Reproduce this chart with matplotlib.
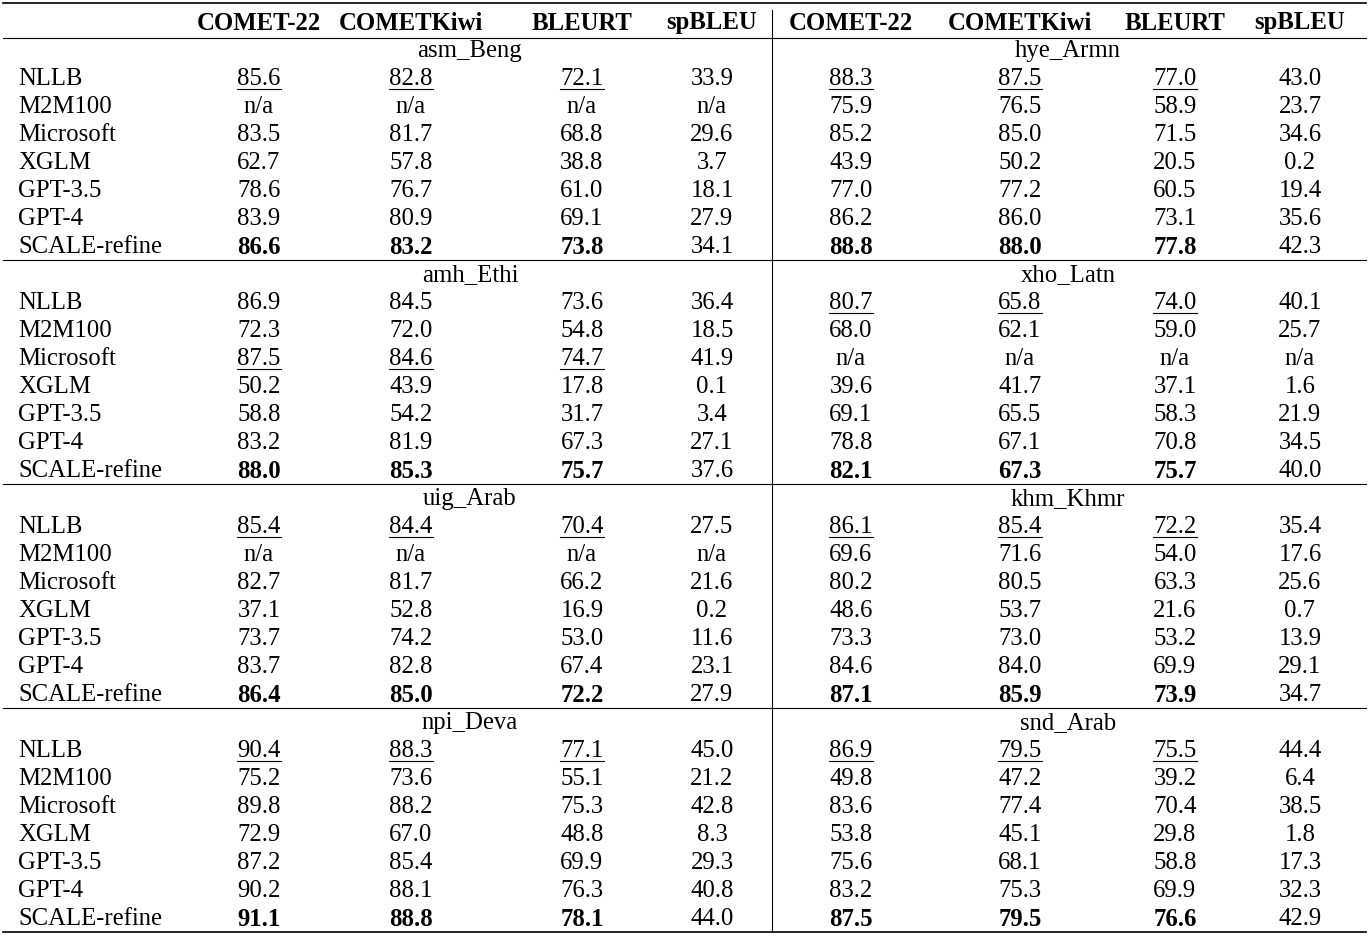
import matplotlib
matplotlib.use("Agg")
import matplotlib.pyplot as plt

models = ["NLLB", "M2M100", "Microsoft", "XGLM", "GPT-3.5", "GPT-4", "SCALE-refine"]
metrics = ["COMET-22", "COMETKiwi", "BLEURT", "spBLEU"]
left_langs = ["asm_Beng", "amh_Ethi", "uig_Arab", "npi_Deva"]
right_langs = ["hye_Armn", "xho_Latn", "khm_Khmr", "snd_Arab"]

asm_Beng = [["85.6","82.8","72.1","33.9"],["n/a","n/a","n/a","n/a"],["83.5","81.7","68.8","29.6"],["62.7","57.8","38.8","3.7"],["78.6","76.7","61.0","18.1"],["83.9","80.9","69.1","27.9"],["86.6","83.2","73.8","34.1"]]
hye_Armn = [["88.3","87.5","77.0","43.0"],["75.9","76.5","58.9","23.7"],["85.2","85.0","71.5","34.6"],["43.9","50.2","20.5","0.2"],["77.0","77.2","60.5","19.4"],["86.2","86.0","73.1","35.6"],["88.8","88.0","77.8","42.3"]]
amh_Ethi = [["86.9","84.5","73.6","36.4"],["72.3","72.0","54.8","18.5"],["87.5","84.6","74.7","41.9"],["50.2","43.9","17.8","0.1"],["58.8","54.2","31.7","3.4"],["83.2","81.9","67.3","27.1"],["88.0","85.3","75.7","37.6"]]
xho_Latn = [["80.7","65.8","74.0","40.1"],["68.0","62.1","59.0","25.7"],["n/a","n/a","n/a","n/a"],["39.6","41.7","37.1","1.6"],["69.1","65.5","58.3","21.9"],["78.8","67.1","70.8","34.5"],["82.1","67.3","75.7","40.0"]]
uig_Arab = [["85.4","84.4","70.4","27.5"],["n/a","n/a","n/a","n/a"],["82.7","81.7","66.2","21.6"],["37.1","52.8","16.9","0.2"],["73.7","74.2","53.0","11.6"],["83.7","82.8","67.4","23.1"],["86.4","85.0","72.2","27.9"]]
khm_Khmr = [["86.1","85.4","72.2","35.4"],["69.6","71.6","54.0","17.6"],["80.2","80.5","63.3","25.6"],["48.6","53.7","21.6","0.7"],["73.3","73.0","53.2","13.9"],["84.6","84.0","69.9","29.1"],["87.1","85.9","73.9","34.7"]]
npi_Deva = [["90.4","88.3","77.1","45.0"],["75.2","73.6","55.1","21.2"],["89.8","88.2","75.3","42.8"],["72.9","67.0","48.8","8.3"],["87.2","85.4","69.9","29.3"],["90.2","88.1","76.3","40.8"],["91.1","88.8","78.1","44.0"]]
snd_Arab = [["86.9","79.5","75.5","44.4"],["49.8","47.2","39.2","6.4"],["83.6","77.4","70.4","38.5"],["53.8","45.1","29.8","1.8"],["75.6","68.1","58.8","17.3"],["83.2","75.3","69.9","32.3"],["87.5","79.5","76.6","42.9"]]
left_data = [asm_Beng, amh_Ethi, uig_Arab, npi_Deva]
right_data = [hye_Armn, xho_Latn, khm_Khmr, snd_Arab]
left_ul = [0, 2, 0, 0]
right_ul = [0, 0, 0, 0]

W, H = 1370, 936
fig = plt.figure(figsize=(13.7, 9.36), dpi=100)
ax = fig.add_axes([0, 0, 1, 1])
ax.set_xlim(0, W); ax.set_ylim(H, 0); ax.axis("off")
FONT = "Liberation Serif"
FS = 17.8
lc = [259, 411, 582, 712]
rc = [851, 1020, 1175, 1300]

def t(x, y, s, ha="center", bold=False):
    return ax.text(x, y + 1, s, ha=ha, va="center", fontsize=FS, family=FONT,
                   fontweight="bold" if bold else "normal")

ax.plot([3, 1366], [3, 3], color="black", lw=1.2)
ax.plot([3, 1366], [38, 38], color="black", lw=0.8)
ax.plot([3, 1366], [932, 932], color="black", lw=1.2)
ax.plot([772, 772], [10, 932], color="black", lw=0.8)
for i, m in enumerate(metrics):
    t(lc[i], 22, m, bold=True); t(rc[i], 22, m, bold=True)

underlines = []
for b in range(4):
    y0 = 50 + b * 224
    if b > 0:
        ax.plot([3, 1366], [y0 - 14, y0 - 14], color="black", lw=0.8)
    t(470, y0, left_langs[b]); t(1068, y0, right_langs[b])
    for r, m in enumerate(models):
        y = y0 + 28 * (r + 1)
        t(18, y, m, ha="left")
        for cols, data, ul in ((lc, left_data[b], left_ul[b]), (rc, right_data[b], right_ul[b])):
            for c in range(4):
                txt = t(cols[c], y, data[r][c], bold=(r == 6 and c < 3))
                if r == ul and c < 3:
                    underlines.append((txt, y))

fig.canvas.draw()
rend = fig.canvas.get_renderer()
inv = ax.transData.inverted()
for txt, y in underlines:
    bb = txt.get_window_extent(rend)
    (x0, _), (x1, _) = inv.transform([(bb.x0, bb.y0), (bb.x1, bb.y1)])
    ax.plot([x0, x1], [y + 11, y + 11], color="black", lw=0.8)

fig.savefig("out.png", dpi=100)
